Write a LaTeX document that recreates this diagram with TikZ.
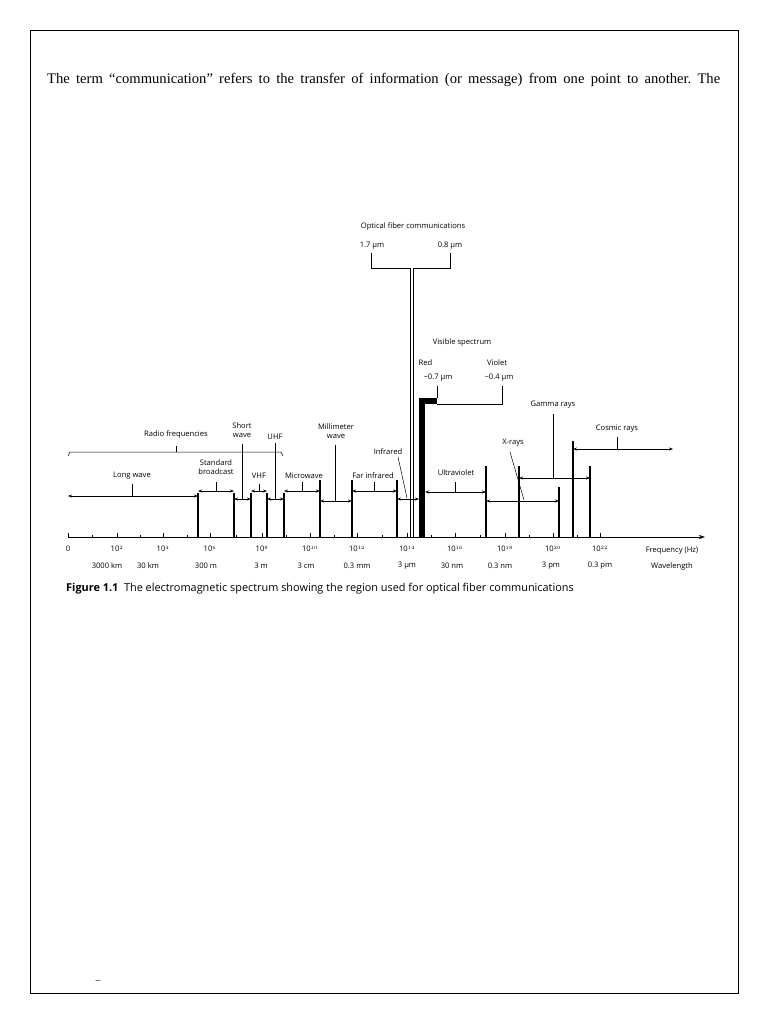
\documentclass[tikz,border=0pt]{standalone}
\usepackage{fontspec}
\setmainfont{Liberation Serif}
\newfontfamily\figfont{Open Sans}
\usetikzlibrary{arrows.meta}
\begin{document}
\frenchspacing
\begin{tikzpicture}[x=1pt,y=-1pt,
  lab/.style={font=\figfont\fontsize{7.6}{8.6}\selectfont,inner sep=0.5pt,align=center},
  ax/.style={line width=0.5pt},
  bar/.style={line width=1.3pt},
  rng/.style={line width=0.6pt,{Stealth[length=4pt,width=3pt]}-{Stealth[length=4pt,width=3pt]}},
  ld/.style={line width=0.5pt}]
\useasboundingbox (0,0) rectangle (768,1024);
\draw[line width=0.6pt] (30,30) rectangle (738,993);
\node[anchor=west,font=\fontsize{14.6}{16}\selectfont,inner sep=0] (intro) at (47,80) {\makebox[673pt][s]{The term “communication” refers to the transfer of information (or message) from one point to another. The}};
\node[font=\fontsize{10}{12}\selectfont] (dash) at (98,982) {–};
% axis
\draw[ax,-{Stealth[length=6pt,width=4pt]}] (68,537) -- (705,537);
\foreach \x in {68,117,163,210,262,310,357,407,455,505,553,600}{\draw[ax] (\x,537) -- (\x,533);}
\foreach \x in {92,140,187,236,286,334,382,431,480,529,577}{\draw[ax] (\x,537) -- (\x,535);}
\foreach \x/\t in {68/0,117/10$^{2}$,163/10$^{4}$,210/10$^{6}$,262/10$^{8}$,310/10$^{10}$,357/10$^{12}$,407/10$^{14}$,455/10$^{16}$,505/10$^{18}$,553/10$^{20}$,600/10$^{22}$}
  {\node[lab] at (\x,549) {\t};}
\foreach \x/\t in {107/3000 km,148/30 km,206/300 m,261/3 m,306/3 cm,357/0.3 mm,407/3 μm,452/30 nm,500/0.3 nm,551/3 pm,600/0.3 pm}
  {\node[lab] at (\x,566) {\t};}
\node[lab] (freq) at (672,551) {Frequency (Hz)};
\node[lab] (wl) at (672,567) {Wavelength};
\node[anchor=west,font=\figfont\fontsize{10.9}{12}\selectfont,inner sep=0] (cap) at (66,589) {\textbf{Figure 1.1}\ \ The electromagnetic spectrum showing the region used for optical fiber communications};
% vertical lines
\foreach \x/\t in {198/493,234/493,251/493,267/493,284/493,320/480,352/480,397/480,486/466,519/466,559/487,573/441,590/466}
  {\draw[bar] (\x,537) -- (\x,\t);}
% radio brace
\draw[ld] (68,456) -- (70,452) -- (281,452) -- (283,456);
\draw[ld] (176,452) -- (176,446);
\node[lab] (radio) at (176,435) {Radio frequencies};
% ranges
\draw[rng] (68,496) -- (198,496); \draw[ld] (132,496) -- (132,484); \node[lab] (lw) at (132,476) {Long wave};
\draw[rng] (198,491) -- (234,491); \draw[ld] (216,491) -- (216,482); \node[lab] (sb) at (216,467) {Standard\\broadcast};
\draw[rng] (234,499) -- (251,499); \draw[ld] (242,499) -- (242,444); \node[lab] (sw) at (242,430) {Short\\wave};
\draw[rng] (251,491) -- (267,491); \draw[ld] (259,491) -- (259,484); \node[lab] (vhf) at (259,476) {VHF};
\draw[rng] (267,499) -- (284,499); \draw[ld] (275,499) -- (275,443); \node[lab] (uhf) at (275,437) {UHF};
\draw[rng] (284,491) -- (320,491); \draw[ld] (302,491) -- (302,482); \node[lab] (mw) at (304,476) {Microwave};
\draw[rng] (320,501) -- (352,501); \draw[ld] (335,501) -- (335,445); \node[lab] (mm) at (336,431) {Millimeter\\wave};
\draw[rng] (352,491) -- (397,491); \draw[ld] (374,491) -- (374,482); \node[lab] (fi) at (373,476) {Far infrared};
\draw[rng] (397,499) -- (419,499); \draw[ld] (407,498) -- (398,457); \node[lab] (ir) at (388,452) {Infrared};
\draw[rng] (425,492) -- (486,492); \draw[ld] (455,492) -- (455,482); \node[lab] (uv) at (456,473) {Ultraviolet};
\draw[rng] (486,501) -- (559,501); \draw[ld] (524,500) -- (510,452); \node[lab] (xr) at (513,443) {X-rays};
\draw[rng] (519,478) -- (590,478); \draw[ld] (553,478) -- (553,414); \node[lab] (gr) at (553,405) {Gamma rays};
\draw[rng] (573,449) -- (673,449); \draw[ld] (617,449) -- (617,437); \node[lab] (cr) at (617,429) {Cosmic rays};
% optical fiber
\draw[ld] (410,537) -- (410,268) -- (371,268) -- (371,253);
\draw[ld] (413,537) -- (413,268) -- (450,268) -- (450,253);
\node[lab] (of) at (413,227) {Optical fiber communications};
\node[lab] (l17) at (372,246) {1.7 μm};
\node[lab] (l08) at (450,246) {0.8 μm};
% visible
\fill (419,537) rectangle (425,398);
\fill (419,398) rectangle (437,404);
\draw[ld] (437,398) -- (437,386);
\draw[ld] (437,404) -- (502,404) -- (502,386);
\node[lab] (vs) at (462,343) {Visible spectrum};
\node[lab,anchor=west] (red) at (418,363) {Red};
\node[lab] (r07) at (438,378) {\textasciitilde0.7 μm};
\node[lab] (vio) at (497,363) {Violet};
\node[lab] (v04) at (499,378) {\textasciitilde0.4 μm};
\end{tikzpicture}
\end{document}
